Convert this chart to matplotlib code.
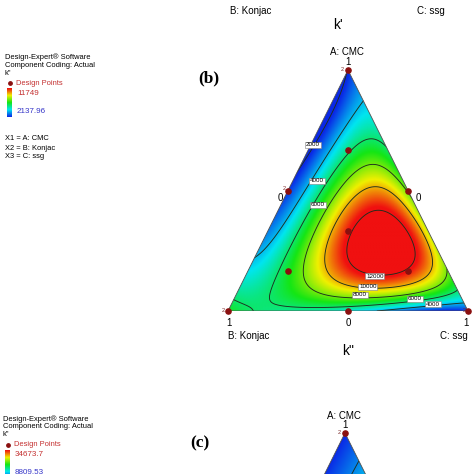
import numpy as np
import matplotlib
matplotlib.use("Agg")
import matplotlib.pyplot as plt
from matplotlib.colors import LinearSegmentedColormap
from matplotlib.patches import Polygon

plt.rcParams['font.family'] = ['Liberation Sans', 'DejaVu Sans']

# ---------------- panel (b): k'' ----------------
# design points, fractions of A: CMC, B: Konjac, C: ssg
dp_a = np.array([1, 0, 0, 0.5, 0.5, 0, 1/3, 2/3, 1/6, 1/6])
dp_b = np.array([0, 1, 0, 0.5, 0, 0.5, 1/3, 1/6, 2/3, 1/6])
dp_c = np.array([0, 0, 1, 0, 0.5, 0.5, 1/3, 1/6, 1/6, 2/3])
dp_k2 = [1700, 6600, 2600, 2300, 8000, 5200, 12500, 5900, 6300, 12000]

# response (A fraction, C fraction, k'')
rd_a = [0.058, 0.241, 0.68, 0.689, 0.917, 0.668, 0.427, 0.315, 0.212, 0.124, 0.079, 0.046,
        0, 0,
        0.705, 0.593, 0.506, 0.407, 0.730, 0.539, 0.440, 0.170, 0.170, 0.075, 0.100, 0.145,
        0.295, 0.253, 0.050, 0.029, 0.021, 0.054,
        0.170, 0.116, 0.075, 0.095, 0.274]
rd_c = [0, 0, 0, 0.010, 0.083, 0.332, 0.573, 0.685, 0.788, 0.876, 0.921, 0.954,
        0.175, 0.74,
        0.252, 0.308, 0.351, 0.376, 0.102, 0.101, 0.155, 0.132, 0.236, 0.479, 0.533, 0.540,
        0.290, 0.469, 0.754, 0.839, 0.506, 0.140,
        0.765, 0.763, 0.692, 0.815, 0.621]
rd_k2 = [6000, 4000, 2000, 2000, 4000, 6000, 8400, 8800, 8500, 7000, 6000, 4000,
         6000, 4000,
         6000, 8000, 10000, 12000, 4000, 4000, 6000, 6000, 8000, 8000, 10000, 12000,
         12000, 13000, 6000, 4000, 6000, 6000,
         10000, 10000, 8000, 8000, 12000]

levels_b = [2000, 4000, 6000, 8000, 10000, 12000]
k2_low, k2_high = 2137.96, 11749

# contour label spots (pixels) and values
lab_x = [313, 317, 318, 375, 368, 360, 415, 433]
lab_y = [145, 181, 205, 276, 287, 295, 299, 304]
lab_v = ["2000", "4000", "6000", "12000", "10000", "8000", "6000", "4000"]

# ---------------- panel (c): top corner only ----------------
pc_a = [1.0, 0.83, 0.83]
pc_c = [0.0, 0.0, 0.17]
pc_k = [8810, 9000, 13500]
kc_low, kc_high = 8809.53, 34673.7

de_cmap = LinearSegmentedColormap.from_list(
    "de", [(0, "#0a28e6"), (0.25, "#00e6f0"), (0.5, "#14e614"), (0.75, "#f0f000"), (1, "#f01010")])


def feats(a, c, deg=4):
    a = np.asarray(a, float)
    c = np.asarray(c, float)
    return np.stack([a**i * c**j for i in range(deg + 1) for j in range(deg + 1 - i)], axis=-1)


fig = plt.figure(figsize=(4.74, 4.74), dpi=100)
W = 474.0


def tri_axes(left, top):
    ax = fig.add_axes([left / W, (W - top - 241) / W, 240 / W, 241 / W])
    ax.set_xlim(0, 1)
    ax.set_ylim(0, 1)
    ax.axis("off")
    tri = Polygon([(0, 0), (1, 0), (0.5, 1)], closed=True, transform=ax.transData,
                  fc="none", ec="#505050", lw=0.6, zorder=3)
    ax.add_patch(tri)
    return ax, tri


gx, gy = np.meshgrid(np.linspace(0, 1, 400), np.linspace(0, 1, 400))

# panel (b)
axb, trib = tri_axes(228, 70)
fa = np.concatenate([dp_a, rd_a])
fc = np.concatenate([dp_c, rd_c])
fk = np.concatenate([dp_k2, rd_k2])
coef, *_ = np.linalg.lstsq(feats(fa, fc), fk, rcond=None)
zb = feats(gy, gx - gy / 2) @ coef
im = axb.imshow(zb, origin="lower", extent=(0, 1, 0, 1), aspect="auto", cmap=de_cmap,
                vmin=k2_low, vmax=k2_high, interpolation="bilinear")
im.set_clip_path(trib)
cs = axb.contour(gx, gy, zb, levels=levels_b, colors="#1e2e1e", linewidths=0.65)
cs.set_clip_path(trib)
axb.scatter(dp_c + dp_a / 2, dp_a, s=14, color="#8a0f0f", zorder=5, clip_on=False)

# panel (c)
axc, tric = tri_axes(225, 433)
cc, *_ = np.linalg.lstsq(feats(pc_a, pc_c, 1), pc_k, rcond=None)
zc = feats(gy, gx - gy / 2, 1) @ cc
imc = axc.imshow(zc, origin="lower", extent=(0, 1, 0, 1), aspect="auto", cmap=de_cmap,
                 vmin=kc_low, vmax=kc_high)
imc.set_clip_path(tric)
csc = axc.contour(gx, gy, zc, levels=[12000], colors="#1e2e1e", linewidths=0.65)
csc.set_clip_path(tric)
axc.scatter([0.5], [1.0], s=14, color="#8a0f0f", zorder=5, clip_on=False)

# overlay in pixel units for all the text
ov = fig.add_axes([0, 0, 1, 1])
ov.set_xlim(0, W)
ov.set_ylim(W, 0)
ov.axis("off")
ov.patch.set_alpha(0)

red_t, blue_t = "#c43030", "#3434c8"
fs_leg = 5.4


def legend(x0, y0, hi, lo, yname):
    ov.text(x0, y0, "Design-Expert\u00ae Software", fontsize=fs_leg, va="center")
    ov.text(x0, y0 + 8, "Component Coding: Actual", fontsize=fs_leg, va="center")
    ov.text(x0, y0 + 16, yname, fontsize=fs_leg, va="center")
    ov.scatter([x0 + 5], [y0 + 26], s=6, color="#8a0f0f")
    ov.text(x0 + 11, y0 + 26, "Design Points", fontsize=fs_leg, color=red_t, va="center")
    ov.imshow(np.linspace(1, 0, 60)[:, None], extent=(x0 + 2.5, x0 + 7, y0 + 60, y0 + 31),
              aspect="auto", cmap=de_cmap)
    ov.text(x0 + 12, y0 + 36, hi, fontsize=fs_leg + 0.4, color=red_t, va="center")
    ov.text(x0 + 12, y0 + 54, lo, fontsize=fs_leg + 0.4, color=blue_t, va="center")


legend(5, 57, "11749", "2137.96", 'k"')
for i, t in enumerate(["X1 = A: CMC", "X2 = B: Konjac", "X3 = C: ssg"]):
    ov.text(5, 139 + 9 * i, t, fontsize=fs_leg, va="center")
legend(3, 419, "34673.7", "8809.53", 'k"')
ov.set_xlim(0, W)
ov.set_ylim(W, 0)

# panel (a) remnants
ov.text(230, 11, "B: Konjac", fontsize=7, va="center")
ov.text(445, 11, "C: ssg", fontsize=7, va="center", ha="right")
ov.text(338, 25, "k'", fontsize=10, va="center", ha="center")

# panel (b) labels
ov.text(209, 78, "(b)", fontsize=12.5, fontweight="bold", family="Liberation Serif",
        ha="center", va="center")
ov.text(347, 52, "A: CMC", fontsize=7, ha="center", va="center")
ov.text(348, 62, "1", fontsize=7, ha="center", va="center")
ov.text(280, 198, "0", fontsize=7, ha="center", va="center")
ov.text(418, 198, "0", fontsize=7, ha="center", va="center")
ov.text(229, 323, "1", fontsize=7, ha="center", va="center")
ov.text(348, 323, "0", fontsize=7, ha="center", va="center")
ov.text(466, 323, "1", fontsize=7, ha="center", va="center")
ov.text(228, 336, "B: Konjac", fontsize=7, va="center")
ov.text(468, 336, "C: ssg", fontsize=7, va="center", ha="right")
ov.text(348, 351, 'k"', fontsize=10, ha="center", va="center")
for x, y in [(342, 69), (223, 311), (284, 188), (464, 310)]:
    ov.text(x, y, "2", fontsize=4, color="#7a2a2a", ha="center", va="center")
for x, y, v in zip(lab_x, lab_y, lab_v):
    ov.text(x, y, v, fontsize=4.5, ha="center", va="center",
            bbox=dict(boxstyle="square,pad=0.12", fc="white", ec="#808080", lw=0.4))

# panel (c) labels
ov.text(200, 443, "(c)", fontsize=12.5, fontweight="bold", family="Liberation Serif",
        ha="center", va="center")
ov.text(344, 416, "A: CMC", fontsize=7, ha="center", va="center")
ov.text(345, 425, "1", fontsize=7, ha="center", va="center")
ov.text(339, 433, "2", fontsize=4, color="#7a2a2a", ha="center", va="center")

fig.savefig("out.png", dpi=100)
